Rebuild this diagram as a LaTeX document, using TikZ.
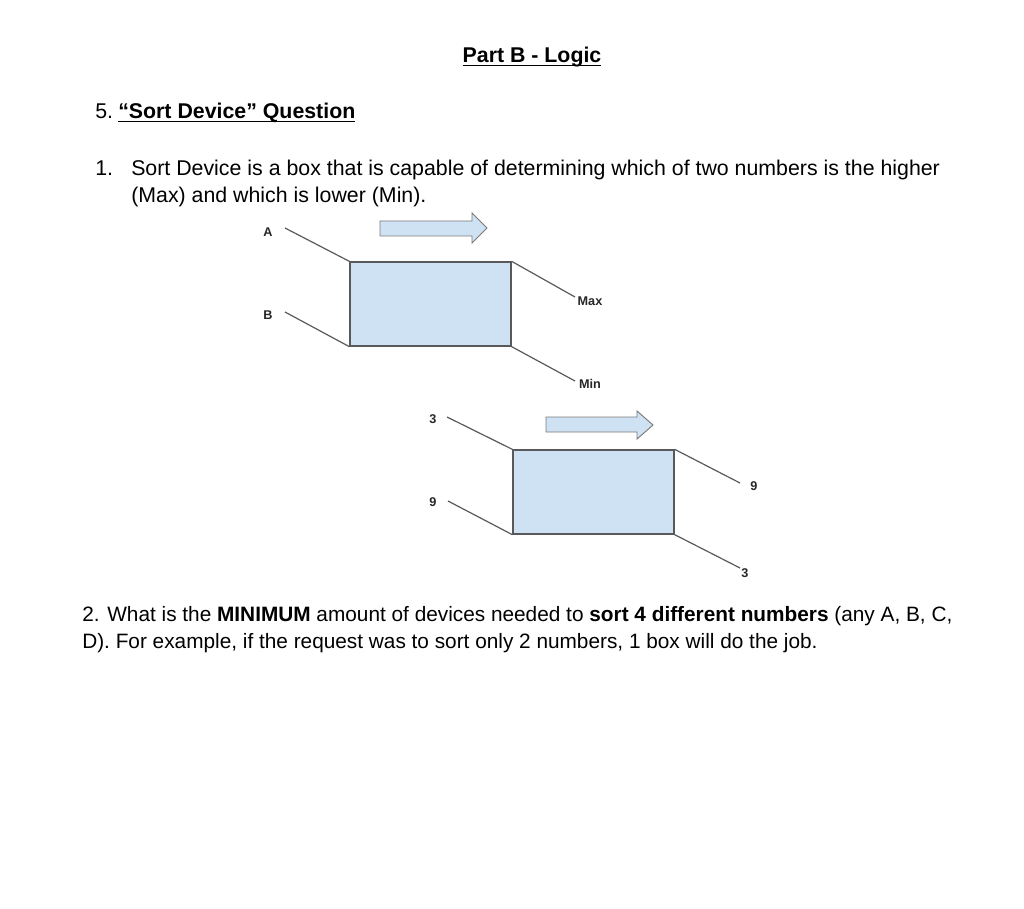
\documentclass[tikz,border=0pt]{standalone}
\usepackage{fontspec}
\setmainfont{Liberation Sans}
\definecolor{boxfill}{HTML}{CFE2F3}
\definecolor{edge}{HTML}{595959}
\newcommand{\ulbox}[1]{\setbox0\hbox{#1}\rlap{\rule[-2.2pt]{\wd0}{0.9pt}}\box0}
\begin{document}
\begin{tikzpicture}[x=0.75pt,y=-0.75pt,
  txt/.style={anchor=base west,inner sep=0pt,font=\fontsize{16}{18}\selectfont},
  txtb/.style={anchor=base west,inner sep=0pt,font=\fontsize{15.6}{18}\selectfont},
  lbl/.style={inner sep=0pt,font=\fontsize{9.5}{11}\selectfont\bfseries,text=black!85},
  sbox/.style={draw=edge,line width=1pt,fill=boxfill,minimum width=120.75pt,minimum height=63pt,inner sep=0pt},
  wire/.style={draw=edge,line width=0.9pt},
  flow/.style={draw=edge!80,line width=0.7pt,fill=boxfill}]
\useasboundingbox (0,0) rectangle (1024,909);
% texts
\node[txt,anchor=base] (title) at (532,63) {\bfseries\ulbox{Part B - Logic}};
\node[txt] (q5n) at (95,119) {5.};
\node[txt] (q5) at (118,119) {\bfseries\ulbox{“Sort Device” Question}};
\node[txt] (n1) at (95,176) {1.};
\node[txt] (l1) at (131,176) {Sort Device is a box that is capable of determining which of two numbers is the higher};
\node[txt] (l2) at (131,203) {(Max) and which is lower (Min).};
\node[txtb] (l3) at (82,621) {2. What is the \textbf{MINIMUM} amount of devices needed to \textbf{sort 4 different numbers} (any A, B, C,};
\node[txtb] (l4) at (82,648) {D). For example, if the request was to sort only 2 numbers, 1 box will do the job.};
% device 1
\node[sbox] (d1) at (430.5,304) {};
\node[lbl] (la) at (268,232) {A};
\node[lbl] (lb) at (268,315) {B};
\node[lbl] (lmax) at (590,301) {Max};
\node[lbl] (lmin) at (590,384) {Min};
\coordinate (a1) at (285,228);
\coordinate (b1) at (285,312);
\coordinate (mx1) at (575,297);
\coordinate (mn1) at (575,381);
\draw[wire] (a1) -- (d1.north west);
\draw[wire] (b1) -- (d1.south west);
\draw[wire] (d1.north east) -- (mx1);
\draw[wire] (d1.south east) -- (mn1);
\draw[flow] (380,221) -- (472,221) -- (472,213) -- (487,228) -- (472,243) -- (472,236) -- (380,236) -- cycle;
% device 2
\node[sbox] (d2) at (593.5,492) {};
\node[lbl] (l3a) at (433,419) {3};
\node[lbl] (l9a) at (433,502) {9};
\node[lbl] (l9b) at (754,486) {9};
\node[lbl] (l3b) at (745,573) {3};
\coordinate (a2) at (447,417);
\coordinate (b2) at (448,501);
\coordinate (mx2) at (740,483);
\coordinate (mn2) at (740,568);
\draw[wire] (a2) -- (d2.north west);
\draw[wire] (b2) -- (d2.south west);
\draw[wire] (d2.north east) -- (mx2);
\draw[wire] (d2.south east) -- (mn2);
\draw[flow] (546,417) -- (637,417) -- (637,411) -- (653,425) -- (637,439) -- (637,432) -- (546,432) -- cycle;
\end{tikzpicture}
\end{document}
